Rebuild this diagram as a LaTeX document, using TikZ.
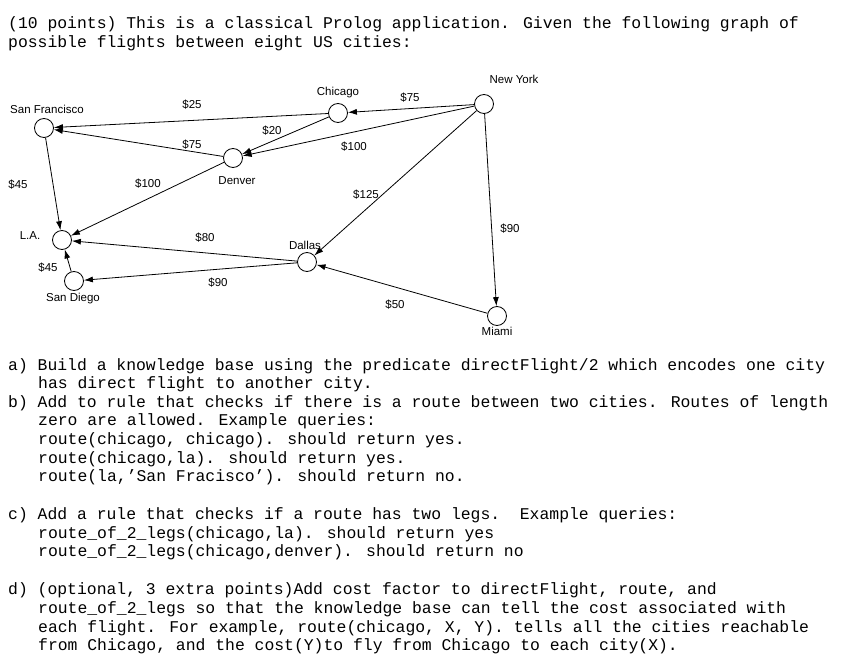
\documentclass[tikz,border=0pt]{standalone}
\usepackage{fontspec}
\setmainfont{Liberation Sans}
\newfontfamily\mono{Liberation Mono}
\usetikzlibrary{arrows.meta}
\begin{document}
\begin{tikzpicture}[x=1pt,y=-1pt,
 city/.style={circle,draw,thick,minimum size=19pt,inner sep=0},
 lbl/.style={font=\fontsize{11.5}{13}\selectfont},
 edge/.style={thick,-{Latex[length=9pt,width=6pt]}},
 tl/.style={anchor=west,inner sep=0,font=\mono\fontsize{16.4}{18}\selectfont}]
\useasboundingbox (0,0) rectangle (854,669);
\node[city] (sf) at (44,128) {};
\node[city] (chi) at (338,113) {};
\node[city] (ny) at (484,104) {};
\node[city] (den) at (233,158) {};
\node[city] (la) at (62,240) {};
\node[city] (sd) at (74,281) {};
\node[city] (dal) at (307,262) {};
\node[city] (mia) at (497,316) {};
\node[lbl] at (47,109) {San Francisco};
\node[lbl] at (338,93) {Chicago};
\node[lbl] at (514,79) {New York};
\node[lbl] at (237,181) {Denver};
\node[lbl] at (30,236) {L.A.};
\node[lbl] at (305,245) {Dallas};
\node[lbl] at (73,299) {San Diego};
\node[lbl] at (497,331) {Miami};
\draw[edge] (ny) -- (chi); \node[lbl] at (410,98) {\$75};
\draw[edge] (chi) -- (sf); \node[lbl] at (192,105) {\$25};
\draw[edge] (chi) -- (den); \node[lbl] at (272,131) {\$20};
\draw[edge] (ny) -- (den); \node[lbl] at (354,147) {\$100};
\draw[edge] (den) -- (sf); \node[lbl] at (192,145) {\$75};
\draw[edge] (sf) -- (la); \node[lbl] at (18,185) {\$45};
\draw[edge] (den) -- (la); \node[lbl] at (148,184) {\$100};
\draw[edge] (ny) -- (dal); \node[lbl] at (366,195) {\$125};
\draw[edge] (ny) -- (mia); \node[lbl] at (510,229) {\$90};
\draw[edge] (dal) -- (la); \node[lbl] at (205,238) {\$80};
\draw[edge] (dal) -- (sd); \node[lbl] at (218,283) {\$90};
\draw[edge] (sd) -- (la); \node[lbl] at (48,268) {\$45};
\draw[edge] (mia) -- (dal); \node[lbl] at (395,305) {\$50};
\node[tl] (t1) at (8,24) {(10 points) This is a classical Prolog application. Given the following graph of};
\node[tl] (t2) at (8,43) {possible flights between eight US cities:};
\node[tl] (a1) at (8,366) {a) Build a knowledge base using the predicate directFlight/2 which encodes one city};
\node[tl] (a2) at (38,384) {has direct flight to another city.};
\node[tl] (b1) at (8,403) {b) Add to rule that checks if there is a route between two cities. Routes of length};
\node[tl] (b2) at (38,421) {zero are allowed. Example queries:};
\node[tl] (b3) at (38,440) {route(chicago, chicago). should return yes.};
\node[tl] (b4) at (38,459) {route(chicago,la). should return yes.};
\node[tl] (b5) at (38,477) {route(la,’San Fracisco’). should return no.};
\node[tl] (c1) at (8,515) {c) Add a rule that checks if a route has two legs.\ \ Example queries:};
\node[tl] (c2) at (38,534) {route\_of\_2\_legs(chicago,la). should return yes};
\node[tl] (c3) at (38,552) {route\_of\_2\_legs(chicago,denver). should return no};
\node[tl] (d1) at (8,590) {d) (optional, 3 extra points)Add cost factor to directFlight, route, and};
\node[tl] (d2) at (38,609) {route\_of\_2\_legs so that the knowledge base can tell the cost associated with};
\node[tl] (d3) at (38,628) {each flight. For example, route(chicago, X, Y). tells all the cities reachable};
\node[tl] (d4) at (38,646) {from Chicago, and the cost(Y)to fly from Chicago to each city(X).};
\end{tikzpicture}
\end{document}
